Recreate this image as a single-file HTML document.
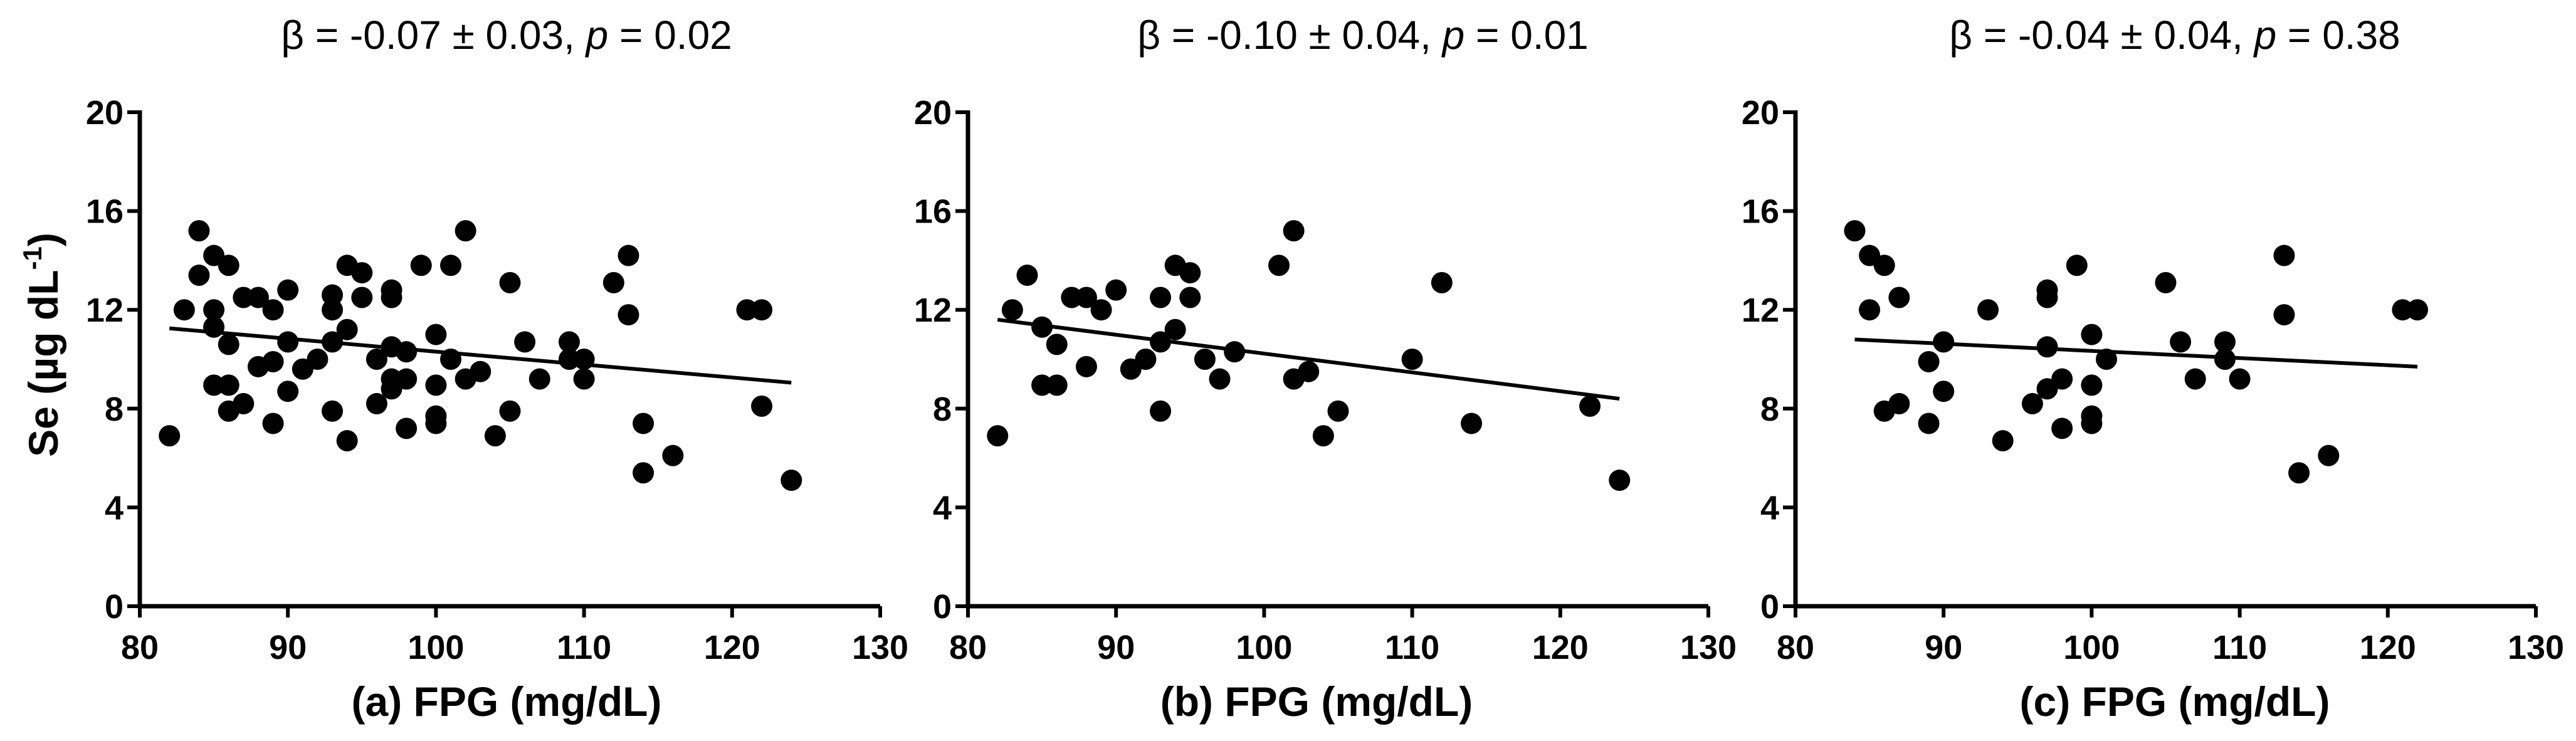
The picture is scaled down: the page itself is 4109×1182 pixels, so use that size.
<!DOCTYPE html>
<html><head><meta charset="utf-8"><style>
html,body{margin:0;padding:0;background:#fff}
svg{display:block}
text{font-family:"Liberation Sans",Arial,sans-serif;fill:#000}
</style></head><body>
<svg id="chart" width="4109" height="1182" viewBox="0 0 4109 1182" xmlns="http://www.w3.org/2000/svg"></svg>
<script>
const xTicks=[80,90,100,110,120,130];
const yTicks=[0,4,8,12,16,20];
const titles=["β = -0.07 ± 0.03, ","β = -0.10 ± 0.04, ","β = -0.04 ± 0.04, "];
const pvals=["0.02","0.01","0.38"];
const xLabels=["(a) FPG (mg/dL)","(b) FPG (mg/dL)","(c) FPG (mg/dL)"];
const aX=[82,83,84,84,85,85,85,85,86,86,86,86,87,87,88,88,89,89,89,90,90,90,91,92,93,93,93,93,94,94,94,95,95,96,96,97,97,97,97,97,98,98,98,99,100,100,100,100,101,101,102,102,103,104,105,105,106,107,109,109,110,110,112,113,113,114,114,116,121,122,122,124];
const aY=[6.9,12.0,15.2,13.4,14.2,12.0,11.3,8.95,13.8,10.6,8.95,7.9,12.5,8.2,12.5,9.7,12.0,9.9,7.4,12.8,10.7,8.7,9.6,10.0,12.6,12.0,10.7,7.9,13.8,11.2,6.7,13.5,12.5,10.0,8.2,12.8,12.5,10.5,9.2,8.8,10.3,9.2,7.2,13.8,11.0,8.95,7.7,7.4,13.8,10.0,15.2,9.2,9.5,6.9,13.1,7.9,10.7,9.2,10.7,10.0,10.0,9.2,13.1,14.2,11.8,7.4,5.4,6.1,12.0,12.0,8.1,5.1];
const bX=[82,83,84,85,85,86,86,87,88,88,89,90,91,92,93,93,93,94,94,95,95,96,97,98,101,102,102,103,104,105,110,112,114,122,124];
const bY=[6.9,12.0,13.4,11.3,8.95,10.6,8.95,12.5,12.5,9.7,12.0,12.8,9.6,10.0,12.5,10.7,7.9,13.8,11.2,13.5,12.5,10.0,9.2,10.3,13.8,15.2,9.2,9.5,6.9,7.9,10.0,13.1,7.4,8.1,5.1];
const cX=[84,85,85,86,86,87,87,89,89,90,90,93,94,96,97,97,97,97,98,98,99,100,100,100,100,101,105,106,107,109,109,110,113,113,114,116,121,122];
const cY=[15.2,14.2,12.0,13.8,7.9,12.5,8.2,9.9,7.4,10.7,8.7,12.0,6.7,8.2,12.8,12.5,10.5,8.8,9.2,7.2,13.8,11.0,8.95,7.7,7.4,10.0,13.1,10.7,9.2,10.7,10.0,9.2,14.2,11.8,5.4,6.1,12.0,12.0];
const fitX=[[82,124],[82,124],[84,122]];
const fitY=[[11.25,9.05],[11.6,8.4],[10.8,9.7]];
const seriesX=[aX,bX,cX], seriesY=[aY,bY,cY];
const offsets=[223,1544,2864];
const titleCx=[808,2174,3469], labelCx=[808,2100,3469];
const svg=document.getElementById('chart');
const NS='http://www.w3.org/2000/svg';
function mk(tag,attrs,parent){const e=document.createElementNS(NS,tag);for(const k in attrs)e.setAttribute(k,attrs[k]);parent.appendChild(e);return e;}
const Y0=967,Y20=179;
function ys(v){return Y0+(Y20-Y0)*v/20;}
for(let p=0;p<3;p++){
  const ox=offsets[p];
  const xs=v=>ox+(v-80)*23.62;
  const g=mk('g',{},svg);
  
  
  const t=mk('text',{x:titleCx[p],y:78,'font-size':64,'text-anchor':'middle'},g);
  
  
  t.textContent=titles[p];
  const ts=mk('tspan',{'font-style':'italic'},t);ts.textContent='p';
  const ts2=mk('tspan',{},t);ts2.textContent=' = '+pvals[p];
  const ax=mk('line',{x1:xs(80),y1:Y0,x2:xs(130),y2:Y0,stroke:'#000','stroke-width':7},g);
  
  
  const ay=mk('line',{x1:xs(80),y1:Y0+3,x2:xs(80),y2:Y20-3,stroke:'#000','stroke-width':7},g);
  
  
  xTicks.forEach(v=>{
    mk('line',{x1:xs(v),y1:Y0,x2:xs(v),y2:Y0+18,stroke:'#000','stroke-width':6},g);
    const tl=mk('text',{x:xs(v),y:1051,'font-size':54,'font-weight':'bold','text-anchor':'middle'},g);
    
    
    tl.textContent=v;
  });
  yTicks.forEach(v=>{
    mk('line',{x1:xs(80)-20,y1:ys(v),x2:xs(80),y2:ys(v),stroke:'#000','stroke-width':6},g);
    const tl=mk('text',{x:xs(80)-26,y:ys(v)+19,'font-size':54,'font-weight':'bold','text-anchor':'end'},g);
    
    
    tl.textContent=v;
  });
  const xl=mk('text',{x:labelCx[p],y:1142,'font-size':66,'font-weight':'bold','text-anchor':'middle'},g);
  
  
  xl.textContent=xLabels[p];
  const X=seriesX[p],Yv=seriesY[p];
  for(let i=0;i<X.length;i++){
    const c=mk('circle',{cx:xs(X[i]),cy:ys(Yv[i]),r:17,fill:'#000'},g);
    
    
  }
  const fl=mk('line',{x1:xs(fitX[p][0]),y1:ys(fitY[p][0]),x2:xs(fitX[p][1]),y2:ys(fitY[p][1]),stroke:'#000','stroke-width':6},g);
  
  
}
const yl=mk('text',{x:0,y:0,'font-size':66,'font-weight':'bold','text-anchor':'middle',transform:'translate(92,550) rotate(-90)'},svg);


yl.textContent='Se (µg dL';
const sup=mk('tspan',{'font-size':42,dy:-26},yl);sup.textContent='-1';
const cl=mk('tspan',{dy:26},yl);cl.textContent=')';
</script>
</body></html>
